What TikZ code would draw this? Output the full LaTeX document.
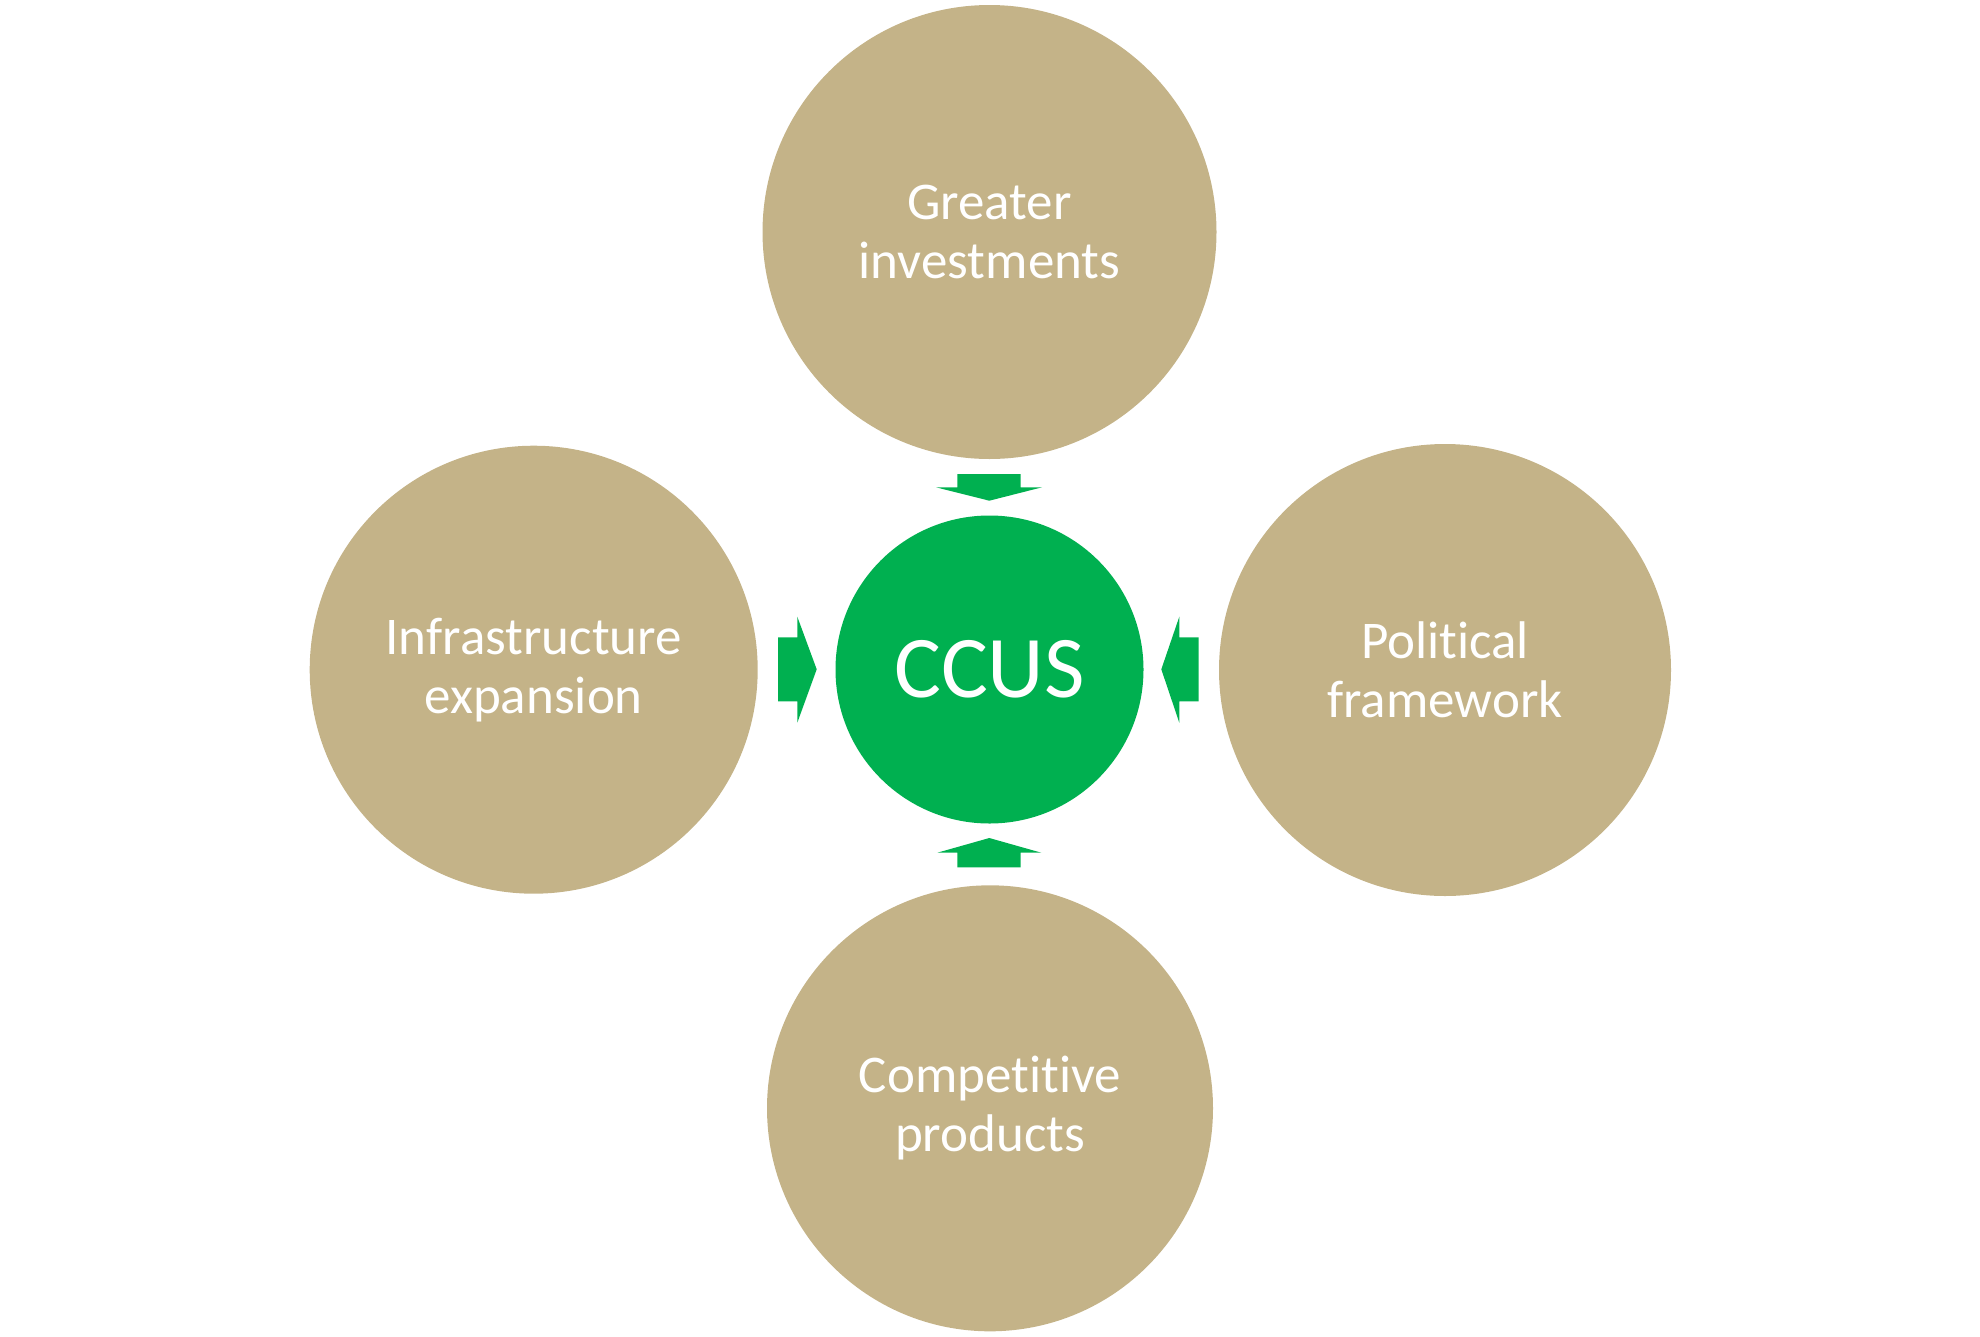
\documentclass[tikz,border=0pt]{standalone}
\usepackage{fontspec}
\setmainfont{Carlito}[Ligatures=NoCommon]
\definecolor{tan}{RGB}{196,179,136}
\definecolor{ccusgreen}{RGB}{0,176,80}
\begin{document}
\begin{tikzpicture}[x=1pt,y=-1pt,
  outer/.style={circle,fill=tan,draw=none,inner sep=0pt,text=white,align=center,
    font=\fontsize{53}{59}\selectfont},
  hub/.style={circle,fill=ccusgreen,draw=none,inner sep=0pt,text=white,
    font=\fontsize{88}{100}\selectfont},
  blockarrow/.style={fill=ccusgreen,draw=none}]
\useasboundingbox (0,0) rectangle (1980,1336);
\node[outer,minimum size=454pt] (top) at (989.5,232) {Greater\\investments};
\node[outer,minimum size=448pt] (left) at (533.7,669.7) {Infrastructure\\expansion};
\node[outer,minimum size=452pt] (right) at (1445,670) {Political\\framework};
\node[outer,minimum size=446pt] (bottom) at (990,1108.3) {Competitive\\products};
\node[hub,minimum size=308pt] (ccus) at (989.5,669.5) {CCUS};
% block arrows pointing to the hub
\fill[blockarrow] (957.3,474) -- (1020.7,474) -- (1020.7,487.3) -- (1042,487.3)
  -- (989.3,500.7) -- (936,487.3) -- (957.3,487.3) -- cycle;
\fill[blockarrow] (957.3,867.3) -- (1020.7,867.3) -- (1020.7,852.7) -- (1041.3,852.7)
  -- (989.3,838) -- (937.3,852.7) -- (957.3,852.7) -- cycle;
\fill[blockarrow] (778,637.3) -- (797.3,637.3) -- (797.3,616.7) -- (816.7,669.3)
  -- (797.3,722.7) -- (797.3,701.3) -- (778,701.3) -- cycle;
\fill[blockarrow] (1198.7,637.3) -- (1179.3,637.3) -- (1179.3,616.7) -- (1161.3,669.3)
  -- (1179.3,722.7) -- (1179.3,701.3) -- (1198.7,701.3) -- cycle;
\end{tikzpicture}
\end{document}
